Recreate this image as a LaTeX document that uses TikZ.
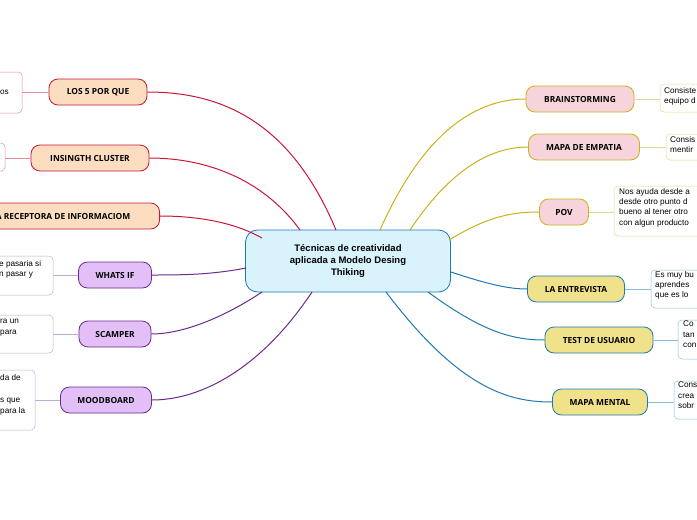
\documentclass[tikz,border=0pt]{standalone}
\usepackage{fontspec}
\setmainfont{Liberation Sans}
\newfontfamily\lab{Open Sans}
\begin{document}
\begin{tikzpicture}[x=1pt,y=-1pt,
 topic/.style={rounded corners=9pt,line width=0.8pt,minimum height=26pt,inner xsep=4pt,font=\lab\bfseries\fontsize{8.4}{9}\selectfont,text=black},
 frag/.style={anchor=north west,align=left,inner sep=0pt,font=\fontsize{8.2}{10.4}\selectfont},
 red/.style={draw=redc,fill=peach}, pur/.style={draw=purc,fill=lilac},
 yel/.style={draw=yelc,fill=pinkf}, blu/.style={draw=bluc,fill=yelf}]
\definecolor{redc}{HTML}{C8163A}\definecolor{peach}{HTML}{FCDDC0}
\definecolor{purc}{HTML}{6B2A8E}\definecolor{lilac}{HTML}{E2C0F7}
\definecolor{yelc}{HTML}{C9B21A}\definecolor{pinkf}{HTML}{F7D3DB}
\definecolor{bluc}{HTML}{1E78B4}\definecolor{yelf}{HTML}{EFE28A}
\useasboundingbox (0,0) rectangle (697,520);
\clip (0,0) rectangle (697,520);
% text boxes left
\draw[redc!50,rounded corners=4pt,line width=0.5pt] (-20,72) rectangle (22,113);
\node[anchor=east,inner sep=0pt,font=\fontsize{8.2}{9}\selectfont] at (9,92) {os};
\draw[redc!50,rounded corners=4pt,line width=0.5pt] (-20,143) rectangle (5,171);
\draw[purc!40,rounded corners=4pt,line width=0.5pt] (-20,256) rectangle (53,295);
\node[frag] at (-1,260) {e pasaria si\\n pasar y};
\draw[purc!40,rounded corners=4pt,line width=0.5pt] (-20,315) rectangle (53,353);
\node[frag] at (0,319) {ra un\\para};
\draw[purc!40,rounded corners=4pt,line width=0.5pt] (-20,370) rectangle (35,430);
\node[frag,font=\fontsize{8.2}{11}\selectfont] at (0,374) {da de\\\\s que\\para la};
% right text boxes
\draw[yelc!50,rounded corners=4pt,line width=0.5pt] (660,84) rectangle (720,112);
\node[frag] at (664,87) {Consiste\\equipo d};
\draw[yelc!50,rounded corners=4pt,line width=0.5pt] (666,134) rectangle (720,160);
\node[frag] at (670,136) {Consis\\mentir};
\draw[yelc!50,rounded corners=4pt,line width=0.5pt] (614,186) rectangle (720,236);
\node[frag] at (619,188) {Nos ayuda desde a\\desde otro punto d\\bueno al tener otro\\con algun producto};
\draw[bluc!50,rounded corners=4pt,line width=0.5pt] (651,270) rectangle (720,308);
\node[frag] at (655,271) {Es muy bu\\aprendes\\que es lo};
\draw[bluc!50,rounded corners=4pt,line width=0.5pt] (678,320) rectangle (720,359);
\node[frag] at (683,321) {Co\\tan\\con};
\draw[bluc!50,rounded corners=4pt,line width=0.5pt] (674,381) rectangle (720,419);
\node[frag] at (678,382) {Cons\\crea\\sobr};
% center
\node[draw=bluc,fill=cyan!15!white,rounded corners=12pt,line width=0.8pt,minimum width=205pt,minimum height=62pt,align=center,font=\bfseries\fontsize{9.5}{12}\selectfont] (c) at (348,261) {Técnicas de creatividad\\aplicada a Modelo Desing\\Thiking};
% topics
\node[topic,red,minimum width=98pt] (n1) at (98,92) {LOS 5 POR QUE};
\node[topic,red,minimum width=118pt] (n2) at (90,158) {INSINGTH CLUSTER};
\node[topic,red,anchor=east,minimum width=200pt] (n3) at (160,216) {\hspace*{20pt}A RECEPTORA DE INFORMACIOM\hspace*{13pt}};
\node[topic,pur,minimum width=73pt] (n4) at (115,275) {WHATS IF};
\node[topic,pur,minimum width=72pt] (n5) at (115,334) {SCAMPER};
\node[topic,pur,minimum width=91pt] (n6) at (106,400) {MOODBOARD};
\node[topic,yel,minimum width=108pt] (m1) at (580,99) {BRAINSTORMING};
\node[topic,yel,minimum width=111pt] (m2) at (584,147) {MAPA DE EMPATIA};
\node[topic,yel,minimum width=49pt] (m3) at (564,212) {POV};
\node[topic,blu,minimum width=97pt] (m4) at (576,289) {LA ENTREVISTA};
\node[topic,blu,minimum width=108pt] (m5) at (599,340) {TEST DE USUARIO};
\node[topic,blu,minimum width=95pt] (m6) at (600,402) {MAPA MENTAL};
% short links
\draw[redc!50] (n1.west) -- (22,92); \draw[redc!50] (n2.west) -- (5,158);
\draw[purc!40] (n4.west) -- (53,275); \draw[purc!40] (n5.west) -- (53,334); \draw[purc!40] (n6.west) -- (35,400);
\draw[yelc!50] (m1.east) -- (660,99); \draw[yelc!50] (m2.east) -- (666,147); \draw[yelc!50] (m3.east) -- (614,212);
\draw[bluc!50] (m4.east) -- (651,289); \draw[bluc!50] (m5.east) -- (678,340); \draw[bluc!50] (m6.east) -- (674,402);
% curves
\begin{scope}[line width=1pt]
\draw[redc] (336,230) .. controls (290,120) and (220,92) .. (n1.east);
\draw[redc] (300,230) .. controls (260,175) and (200,158) .. (n2.east);
\draw[redc] (262,238) .. controls (230,220) and (190,216) .. (n3.east);
\draw[purc] (246,268) .. controls (210,275) and (180,275) .. (n4.east);
\draw[purc] (262,292) .. controls (220,320) and (180,334) .. (n5.east);
\draw[purc] (312,292) .. controls (260,370) and (200,400) .. (n6.east);
\draw[yelc] (380,230) .. controls (420,140) and (470,99) .. (m1.west);
\draw[yelc] (410,230) .. controls (450,170) and (490,147) .. (m2.west);
\draw[yelc] (449,240) .. controls (490,215) and (515,212) .. (m3.west);
\draw[bluc] (451,272) .. controls (490,285) and (510,289) .. (m4.west);
\draw[bluc] (428,292) .. controls (480,330) and (510,340) .. (m5.west);
\draw[bluc] (386,292) .. controls (460,390) and (510,402) .. (m6.west);
\end{scope}
\end{tikzpicture}
\end{document}
